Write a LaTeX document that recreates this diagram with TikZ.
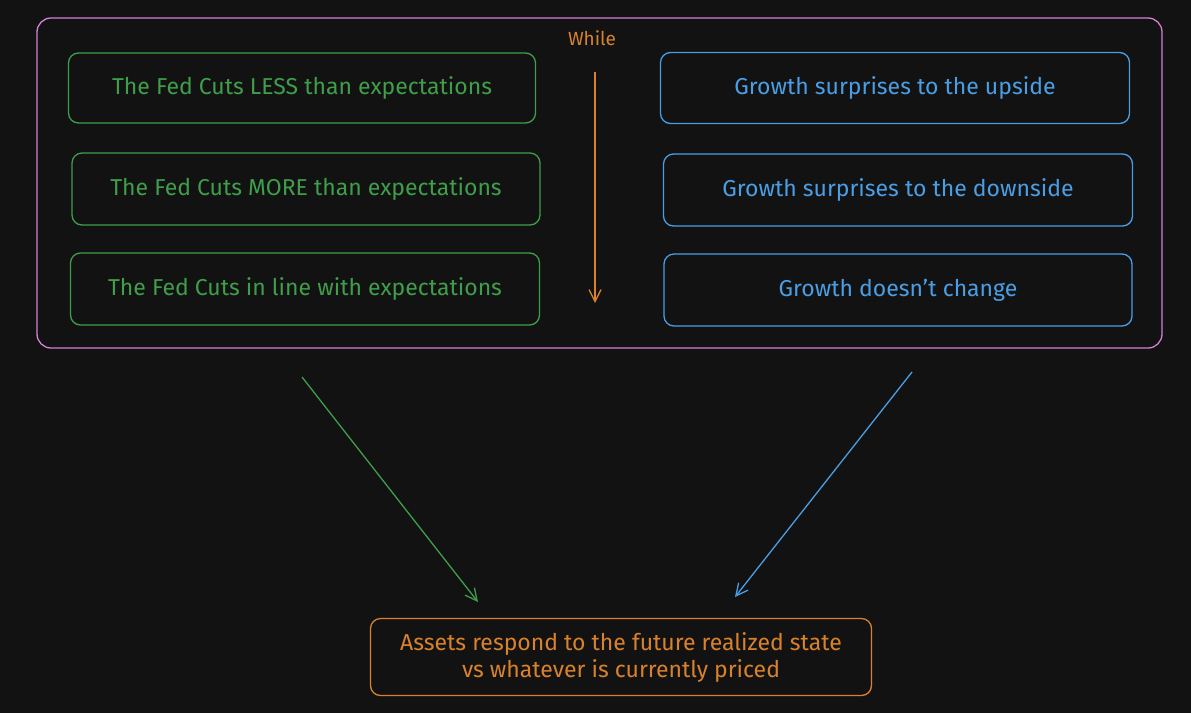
\documentclass[tikz,border=0pt]{standalone}
\usepackage{fontspec}
\setmainfont{Fira Sans}
\usetikzlibrary{arrows.meta}
\begin{document}
\begin{tikzpicture}[x=1pt,y=-1pt,
 bx/.style={draw=#1,line width=1.3pt,rounded corners=10pt,text=#1,font=\fontsize{23}{27}\selectfont},
 arr/.style={draw=#1,line width=1.3pt,-{Straight Barb[length=12pt,width=12pt]}}]
\definecolor{bg}{HTML}{121212}
\definecolor{pk}{HTML}{D67FD6}
\definecolor{gr}{HTML}{3F9E4A}
\definecolor{bl}{HTML}{4A9EE6}
\definecolor{or}{HTML}{D9822B}
\fill[bg] (0,0) rectangle (1191,713);
\useasboundingbox (0,0) rectangle (1191,713);
\draw[pk,line width=1.3pt,rounded corners=14pt] (37,18) rectangle (1162,348);
\node[text=or,font=\fontsize{19}{22}\selectfont] (w) at (592,38) {While};
\coordinate (wa) at (595,72); \coordinate (wb) at (595,303);
\draw[arr=or] (wa) -- (wb);
\node[bx=gr,minimum width=467pt,minimum height=70pt] (g1) at (302,88) {The Fed Cuts LESS than expectations};
\node[bx=gr,minimum width=468pt,minimum height=72pt] (g2) at (306,189) {The Fed Cuts MORE than expectations};
\node[bx=gr,minimum width=469pt,minimum height=72pt] (g3) at (305,289) {The Fed Cuts in line with expectations};
\node[bx=bl,minimum width=469pt,minimum height=71pt] (b1) at (895,88) {Growth surprises to the upside};
\node[bx=bl,minimum width=469pt,minimum height=72pt] (b2) at (898,190) {Growth surprises to the downside};
\node[bx=bl,minimum width=468pt,minimum height=72pt] (b3) at (898,290) {Growth doesn't change};
\node[bx=or,minimum width=501pt,minimum height=77pt,align=center,font=\fontsize{23}{27}\selectfont] (a) at (621,657) {Assets respond to the future realized state\\vs whatever is currently priced};
\coordinate (gs) at (302,377); \coordinate (ge) at (478,602);
\coordinate (bs) at (912,372); \coordinate (be) at (735,597);
\draw[arr=gr] (gs) -- (ge);
\draw[arr=bl] (bs) -- (be);
\end{tikzpicture}
\end{document}
